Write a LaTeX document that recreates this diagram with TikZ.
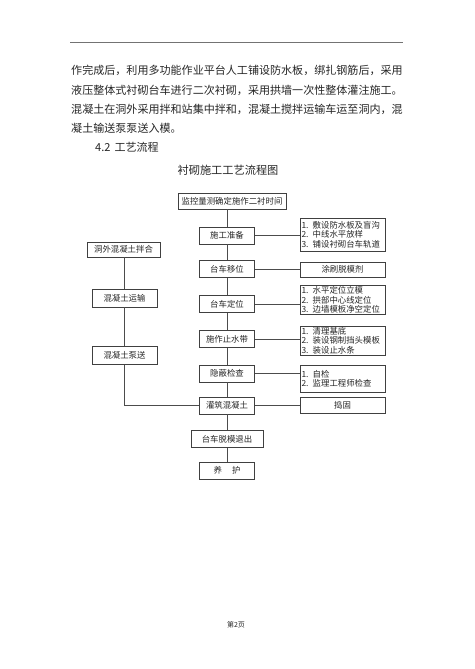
\documentclass[tikz,border=0pt]{standalone}
\usepackage{fontspec}
\setmainfont{Noto Sans CJK SC}
\begin{document}
\begin{tikzpicture}[x=1pt,y=-1pt,
  txt/.style={text=black!85, inner sep=0pt},
  body/.style={txt, anchor=west, font=\fontsize{11.05}{12}\selectfont},
  fbox/.style={draw=black!75, line width=0.6pt, fill=white, inner sep=1pt, text=black!85,
    font=\fontsize{8.4}{9.4}\selectfont, minimum height=17pt},
  main/.style={fbox, minimum width=55pt},
  side/.style={fbox, minimum width=73pt},
  list/.style={fbox, minimum width=85pt, text width=82pt, align=left, inner xsep=1.5pt},
  conn/.style={draw=black!70, line width=0.6pt}
]
\path[use as bounding box, fill=white] (0,0) rectangle (474,669);
% header rule
\coordinate (hl) at (70,42.5);
\coordinate (hr) at (403,42.5);
\draw[black!55, line width=0.8pt] (hl) -- (hr);
% body text
\node[body] (t1) at (71,70) {作完成后，利用多功能作业平台人工铺设防水板，绑扎钢筋后，采用};
\node[body] (t2) at (71,90) {液压整体式衬砌台车进行二次衬砌，采用拱墙一次性整体灌注施工。};
\node[body] (t3) at (71,109) {混凝土在洞外采用拌和站集中拌和，混凝土搅拌运输车运至洞内，混};
\node[body] (t4) at (71,128) {凝土输送泵泵送入模。};
\node[body] (t5) at (95,147) {4.2\hspace{4pt}工艺流程};
\node[txt, font=\fontsize{11.2}{12}\selectfont] (title) at (228,170) {衬砌施工工艺流程图};
% main column
\node[fbox, minimum width=108pt, minimum height=16pt] (b1) at (232,201) {监控量测确定施作二衬时间};
\node[main] (b2) at (227,235.5) {施工准备};
\node[main] (b3) at (227,269) {台车移位};
\node[main] (b4) at (227,304) {台车定位};
\node[main] (b5) at (227,339) {施作止水带};
\node[main] (b6) at (227,373.5) {隐蔽检查};
\node[main] (b7) at (227,405.5) {灌筑混凝土};
\node[main, minimum width=72pt] (b8) at (227,439) {台车脱模退出};
\node[main] (b9) at (227,470.5) {养\hspace{1.2em}护};
% right column
\node[list, minimum height=33pt] (r2) at (342.5,234.5) {1. 敷设防水板及盲沟\\2. 中线水平放样\\3. 铺设衬砌台车轨道};
\node[fbox, minimum width=85pt, minimum height=15pt] (r3) at (342.5,269.5) {涂刷脱模剂};
\node[list, minimum height=28pt] (r4) at (342.5,300) {1. 水平定位立模\\2. 拱部中心线定位\\3. 边墙模板净空定位};
\node[list, minimum height=29pt] (r5) at (342.5,340.5) {1. 清理基底\\2. 装设钢制挡头模板\\3. 装设止水条};
\node[list, minimum height=27pt] (r6) at (342.5,378.5) {1. 自检\\2. 监理工程师检查};
\node[fbox, minimum width=85pt, minimum height=16pt] (r7) at (342.5,405) {捣固};
% left column
\node[side, minimum height=15pt] (l1) at (123.5,249.5) {洞外混凝土拌合};
\node[side, minimum width=65pt, minimum height=18pt] (l2) at (124.5,298) {混凝土运输};
\node[side, minimum width=65pt, minimum height=18pt] (l3) at (124.5,355.5) {混凝土泵送};
% footer
\node[txt, font=\fontsize{7}{8}\selectfont] (pg) at (236,625) {第2页};
% connectors main
\draw[conn] (b2.north) -- (b2.north |- b1.south);
\draw[conn] (b2) -- (b3);
\draw[conn] (b3) -- (b4);
\draw[conn] (b4) -- (b5);
\draw[conn] (b5) -- (b6);
\draw[conn] (b6) -- (b7);
\draw[conn] (b7) -- (b8);
\draw[conn] (b8) -- (b9);
% connectors right
\draw[conn] (b2.east) -- (b2.east -| r2.west);
\draw[conn] (b3.east) -- (b3.east -| r3.west);
\draw[conn] (b4.east) -- (b4.east -| r4.west);
\draw[conn] (b5.east) -- (b5.east -| r5.west);
\draw[conn] (b6.east) -- (b6.east -| r6.west);
\draw[conn] (b7.east) -- (b7.east -| r7.west);
% connectors left
\draw[conn] (l1.south -| l2.north) -- (l2.north);
\draw[conn] (l2) -- (l3);
\draw[conn] (l3.south) |- (b7.west);
\end{tikzpicture}
\end{document}
